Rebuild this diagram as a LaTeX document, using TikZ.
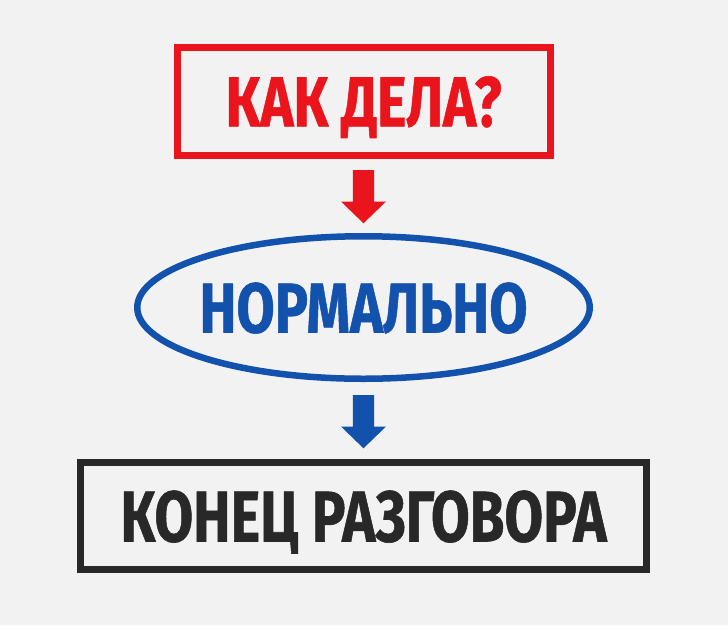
\documentclass[tikz,border=0pt]{standalone}
\usepackage{fontspec}
\newfontfamily\heavy{Fira Sans}[FakeBold=0.9]
\usetikzlibrary{shapes.geometric,calc}
\definecolor{bgc}{RGB}{242,242,242}
\definecolor{redc}{RGB}{234,20,28}
\definecolor{bluec}{RGB}{18,82,172}
\definecolor{darkc}{RGB}{40,40,40}
\begin{document}
\begin{tikzpicture}[x=1pt,y=-1pt,
  framebox/.style={draw, rectangle, line width=7pt, inner sep=0pt, outer sep=0pt,
    text height=50pt, text depth=0pt},
  ovalbox/.style={draw, ellipse, line width=6.5pt, inner sep=0pt, outer sep=0pt},
  caption/.style={inner sep=0pt, outer sep=0pt, text height=50pt, text depth=0pt},
  blockarrow/.pic={\fill (-10.6,0) -- (10.6,0) -- (10.6,31.7) -- (22.3,31.7) -- (0,53.3)
    -- (-22.3,31.7) -- (-10.6,31.7) -- cycle;}]
\fill[bgc] (0,0) rectangle (728,625);
\useasboundingbox (0,0) rectangle (728,625);

\node[framebox, draw=redc, text=redc, minimum width=373pt, minimum height=107.5pt]
  (q) at (363.5,101.25) {\resizebox{276pt}{50pt}{\heavy\bfseries КАК ДЕЛА?}\hspace{9.6pt}};

\node[ovalbox, draw=bluec, minimum width=452.5pt, minimum height=142.5pt]
  (n) at (363.5,307.5) {};
\node[caption, text=bluec] (nt) at (n.center)
  {\resizebox{328pt}{50pt}{\heavy\bfseries НОРМАЛЬНО}};

\node[framebox, draw=darkc, text=darkc, minimum width=566pt, minimum height=107pt, text height=51pt]
  (e) at (363.5,516) {\resizebox{486pt}{51pt}{\heavy\bfseries КОНЕЦ РАЗГОВОРА}};

\pic[color=redc] at ($(q.south)+(0,15)$) {blockarrow};
\pic[color=bluec] at ($(n.south)+(0,16.25)$) {blockarrow};
\end{tikzpicture}
\end{document}
